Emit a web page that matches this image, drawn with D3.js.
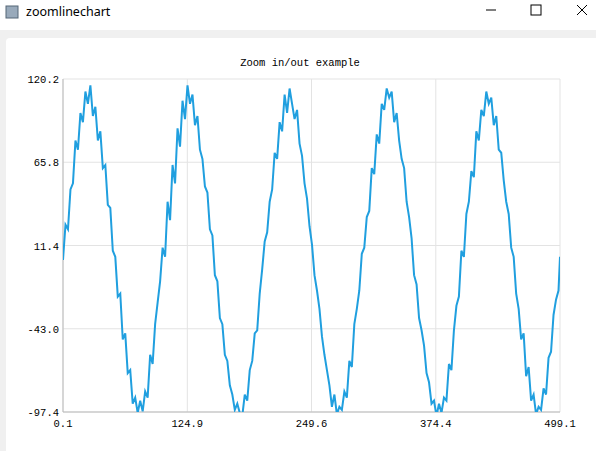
<!DOCTYPE html>
<html><head><meta charset="utf-8">
<script src="https://cdn.jsdelivr.net/npm/d3@7"></script>
<style>body{margin:0;background:#f0f0f0;overflow:hidden}</style>
</head><body>
<svg id="c" width="596" height="451"></svg>
<script>
const title = "Zoom in/out example";
const xTicks = [0.1, 124.9, 249.6, 374.4, 499.1];
const yTicks = [120.2, 65.8, 11.4, -43.0, -97.4];
// sampled every 2.5 units from x = 0.1, plus the last point at 499.1
const values = [
  2, 25, 22, 48, 52, 80, 74, 98, 92, 112, 104, 116, 96, 102, 80, 86, 62, 64, 38, 36, 8, 4, -22, -20, -50, -46, -72, -70, -92, -88, -98, -90, -97, -84, -88, -60, -66, -40, -26, -12,
  10, 4, 40, 28, 64, 52, 88, 76, 106, 94, 116, 104, 110, 90, 96, 74, 68, 50, 46, 22, 18, -8, -12, -36, -40, -60, -64, -80, -86, -96, -92, -98, -100, -86, -90, -70, -64, -46, -44, -20,
  -4, 14, 20, 40, 48, 72, 68, 92, 86, 110, 98, 114, 104, 94, 100, 78, 70, 52, 42, 24, 12, -8, -18, -30, -48, -60, -70, -80, -94, -86, -99, -94, -96, -84, -88, -64, -68, -40, -30, -18,
  6, 10, 30, 34, 62, 58, 84, 78, 104, 100, 114, 108, 112, 92, 98, 80, 68, 62, 40, 30, 16, -8, -14, -36, -44, -54, -72, -78, -92, -90, -100, -92, -98, -88, -90, -66, -70, -44, -28, -22,
  8, 4, 32, 40, 60, 56, 86, 80, 100, 96, 112, 104, 108, 90, 96, 74, 72, 54, 40, 32, 10, 4, -20, -30, -50, -46, -74, -68, -90, -86, -99, -94, -96, -82, -86, -62, -58, -34, -24, -18,
  4
];
const xs = values.map((v, i) => i < 200 ? 0.1 + i * 2.5 : 499.1);

const svg = d3.select("#c");
// window chrome
svg.append("rect").attr("width", 596).attr("height", 30).attr("fill", "#fff");
svg.append("rect").attr("x", 6).attr("y", 6).attr("width", 12).attr("height", 12).attr("fill", "#9ab").attr("stroke", "#567");
svg.append("text").attr("x", 26).attr("y", 16).attr("font-family", "Noto Sans, sans-serif").attr("font-size", 12.5).text("zoomlinechart");
svg.append("line").attr("x1", 486).attr("x2", 496).attr("y1", 10).attr("y2", 10).attr("stroke", "#000");
svg.append("rect").attr("x", 531).attr("y", 5).attr("width", 10).attr("height", 10).attr("fill", "none").attr("stroke", "#000");
svg.append("path").attr("d", "M577,5L587,15M587,5L577,15").attr("stroke", "#000");
svg.append("rect").attr("x", 6).attr("y", 38).attr("width", 600).attr("height", 420).attr("rx", 4).attr("fill", "#fff");

const m = {left: 63, right: 560, top: 79, bottom: 412};
const x = d3.scaleLinear().domain([0.1, 499.1]).range([m.left, m.right]);
const y = d3.scaleLinear().domain([-97.4, 120.2]).range([m.bottom, m.top]);
const font = "Liberation Mono, monospace";

svg.append("text").attr("x", 300).attr("y", 66).attr("text-anchor", "middle")
  .attr("font-family", font).attr("font-size", 10.5).text(title);

const g = svg.append("g");
g.selectAll(".gx").data(xTicks).join("line").attr("x1", d => x(d)).attr("x2", d => x(d))
  .attr("y1", m.top).attr("y2", m.bottom).attr("stroke", "#e3e3e3");
g.selectAll(".gy").data(yTicks).join("line").attr("y1", d => y(d)).attr("y2", d => y(d))
  .attr("x1", m.left).attr("x2", m.right).attr("stroke", "#e3e3e3");
svg.append("line").attr("x1", m.left).attr("x2", m.left).attr("y1", m.top).attr("y2", m.bottom).attr("stroke", "#bbb");
svg.append("line").attr("x1", m.left).attr("x2", m.right).attr("y1", m.bottom).attr("y2", m.bottom).attr("stroke", "#bbb");

svg.selectAll(".yt").data(yTicks).join("text").attr("x", m.left - 4).attr("y", d => y(d) + 4)
  .attr("text-anchor", "end").attr("font-family", font).attr("font-size", 10.5).text(d => d.toFixed(1));
svg.selectAll(".xt").data(xTicks).join("text").attr("x", d => x(d)).attr("y", m.bottom + 15)
  .attr("text-anchor", "middle").attr("font-family", font).attr("font-size", 10.5).text(d => d.toFixed(1));

const clip = svg.append("clipPath").attr("id", "pc").append("rect")
  .attr("x", m.left).attr("y", m.top - 2).attr("width", m.right - m.left).attr("height", m.bottom - m.top + 2);
svg.append("path").datum(values).attr("clip-path", "url(#pc)")
  .attr("d", d3.line().x((d, i) => x(xs[i])).y(d => y(d)))
  .attr("fill", "none").attr("stroke", "#209fdf").attr("stroke-width", 2);
</script>
</body></html>
